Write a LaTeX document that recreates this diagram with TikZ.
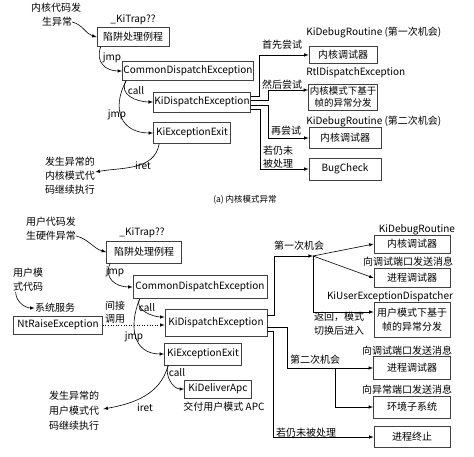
\documentclass[tikz,border=0pt]{standalone}
\usepackage{fontspec}
\setmainfont{Noto Sans CJK SC}
\begin{document}
\begin{tikzpicture}[x=1pt,y=1pt,>=latex,line width=0.6pt,
    every node/.style={font=\fontsize{10}{14}\selectfont},
    box/.style={draw=black!75,inner sep=1pt,align=center},
    txt/.style={inner sep=0pt,align=center}]
\useasboundingbox (0,0) rectangle (474,457);
                    % (a) Kernel mode
                    \node[txt] (AText1) at (56,449) {内核代码发};
                    \node[txt] (AText2) at (57,435) {生异常};
                    \node[txt] (ATrapL) at (133,437) {\_KiTrap??};
                    \node[box,minimum width=72pt,minimum height=19pt] (ATrap) at (133,420) {陷阱处理例程};
                    \node[txt] (AJmp1) at (112,399) {jmp};
                    \node[box,minimum width=129pt,minimum height=19pt] (ACommon) at (188,386) {CommonDispatchException};
                    \node[txt] (ACall) at (136,366) {call};
                    \node[box,minimum width=96pt,minimum height=20pt] (ADisp) at (202,355) {KiDispatchException};
                    \node[txt] (AJmp2) at (117,342) {jmp};
                    \node[box,minimum width=77pt,minimum height=21pt] (AExit) at (192,324) {KiExceptionExit};
                    \node[txt] (AIret) at (143,291) {iret};
                    \node[txt] (AResume) at (70,281) {发生异常的\\内核模式代\\码继续执行};
                    \node[txt,font=\fontsize{8.5}{10}\selectfont] (ACaption) at (245,257) {(a) 内核模式异常};
                    % (a) Handlers
                    \node[txt,anchor=west] (AKdL1) at (306,424) {KiDebugRoutine (第一次机会)};
                    \node[box,minimum width=68pt,minimum height=17pt] (AKd1) at (343,402) {内核调试器};
                    \node[txt] (AFirst) at (282,412) {首先尝试};
                    \node[txt,anchor=west] (ARtlL) at (306,384) {RtlDispatchException};
                    \node[box,minimum width=69pt,minimum height=26pt,font=\fontsize{9.5}{12}\selectfont] (AFrame) at (343,360) {内核模式下基于\\帧的异常分发};
                    \node[txt] (AThen) at (282,372) {然后尝试};
                    \node[txt,anchor=west] (AKdL2) at (306,335) {KiDebugRoutine (第二次机会)};
                    \node[box,minimum width=72pt,minimum height=21pt] (AKd2) at (345,319) {内核调试器};
                    \node[txt] (AAgain) at (286,326) {再尝试};
                    \node[txt,font=\fontsize{10}{13}\selectfont] (AUnh) at (278,300) {若仍未\\被处理};
                    \node[box,minimum width=72pt,minimum height=22pt] (ABug) at (345,288) {BugCheck};
                    % (a) Links
                    \draw [->] (AText2.east) to[out=-15,in=165] (ATrap.west);
                    \draw [->] ([xshift=4pt]ATrap.south west) to[out=-110,in=180,looseness=1.3] (ACommon.west);
                    \draw [->] ([xshift=4pt]ACommon.south west) to[out=-120,in=180,looseness=1.2] (ADisp.west);
                    \draw [->] ([xshift=4pt]ACommon.south west) to[out=-118,in=180,looseness=1.4] (AExit.west);
                    \draw [->] ([xshift=6pt]AExit.south west) to[out=-100,in=10] ([yshift=4pt]AResume.east);
                    \draw [->] ([yshift=6pt]ADisp.east) -- ++(8,0) |- (AKd1.west);
                    \draw [->] ([yshift=2pt]ADisp.east) -- ++(17,0) |- ([yshift=7pt]AFrame.west);
                    \draw [->] ([yshift=-3pt]ADisp.east) -- ++(17,0) |- (AKd2.west);
                    \draw [->] ([yshift=-7pt]ADisp.east) -- ++(9,0) |- (ABug.west);
                    % (b) User mode
                    \node[txt] (BText1) at (51,235) {用户代码发};
                    \node[txt] (BText2) at (51,221) {生硬件异常};
                    \node[txt] (BTrapL) at (142,224) {\_KiTrap??};
                    \node[box,minimum width=75pt,minimum height=22pt] (BTrap) at (144,205) {陷阱处理例程};
                    \node[txt] (BJmp1) at (115,185) {jmp};
                    \node[box,minimum width=134pt,minimum height=23pt] (BCommon) at (200,170) {CommonDispatchException};
                    \node[txt] (BUser) at (28,177) {用户模\\式代码};
                    \node[txt] (BSvc) at (55,149) {系统服务};
                    \node[box,minimum width=89pt,minimum height=18pt] (BRaise) at (58,132) {NtRaiseException};
                    \node[txt,font=\fontsize{10}{13}\selectfont] (BIndirect) at (115,145) {间接\\调用};
                    \node[txt] (BCall1) at (147,149) {call};
                    \node[box,minimum width=102pt,minimum height=27pt] (BDisp) at (216,134) {KiDispatchException};
                    \node[txt] (BJmp2) at (134,120) {jmp};
                    \node[box,minimum width=77pt,minimum height=22pt] (BExit) at (203,103) {KiExceptionExit};
                    \node[txt] (BCall2) at (177,84) {call};
                    \node[box,minimum width=67pt,minimum height=18pt] (BApc) at (218,68) {KiDeliverApc};
                    \node[txt] (BApcL) at (224,50) {交付用户模式 APC};
                    \node[txt] (BIret) at (145,49) {iret};
                    \node[txt,font=\fontsize{10}{15}\selectfont] (BResume) at (74,46) {发生异常的\\用户模式代\\码继续执行};
                    % (b) First chance
                    \node[txt] (BKdL) at (417,227) {KiDebugRoutine};
                    \node[box,minimum width=76pt,minimum height=18pt] (BKd) at (412,213) {内核调试器};
                    \node[txt] (BFirst) at (299,211) {第一次机会};
                    \coordinate (BHub1) at (313,201);
                    \node[txt] (BMsg1) at (408,195) {向调试端口发送消息};
                    \node[box,minimum width=76pt,minimum height=19pt] (BPd1) at (412,179) {进程调试器};
                    \node[txt] (BUedL) at (390,160) {KiUserExceptionDispatcher};
                    \node[box,minimum width=76pt,minimum height=35pt,font=\fontsize{10}{14}\selectfont] (BFrame) at (412,137) {用户模式下基于\\帧的异常分发};
                    \node[txt] (BReturn) at (339,133) {返回，模式\\切换后进入};
                    % (b) Second chance
                    \node[txt] (BSecond) at (315,97) {第二次机会};
                    \node[txt] (BMsg2) at (407,106) {向调试端口发送消息};
                    \node[box,minimum width=77pt,minimum height=23pt] (BPd2) at (412,89) {进程调试器};
                    \coordinate (BHub2) at (335,89);
                    \node[txt] (BMsg3) at (407,67) {向异常端口发送消息};
                    \node[box,minimum width=77pt,minimum height=22pt] (BEnv) at (412,50) {环境子系统};
                    \node[txt] (BUnh) at (306,24) {若仍未被处理};
                    \node[box,minimum width=76pt,minimum height=21pt] (BTerm) at (412,20) {进程终止};
                    % (b) Links
                    \draw [->] (BText2.east) to[out=-15,in=165] (BTrap.west);
                    \draw [->] ([xshift=4pt]BTrap.south west) to[out=-115,in=180,looseness=1.3] (BCommon.west);
                    \draw [->] ([xshift=3pt]BUser.south west) to[out=-90,in=180] (BSvc.west);
                    \draw [->] ([xshift=7pt]BCommon.south west) to[out=-120,in=180] ([yshift=6pt]BDisp.west);
                    \draw [->,dotted] (BRaise.east) -- (BRaise.east -| BDisp.west);
                    \draw [->] ([xshift=7pt]BCommon.south west) to[out=-112,in=180,looseness=1.3] (BExit.west);
                    \draw [->] ([xshift=4pt]BExit.south west) to[out=-110,in=180] (BApc.west);
                    \draw [->] ([xshift=4pt]BExit.south west) to[out=-105,in=10] ([xshift=4pt,yshift=2pt]BResume.east);
                    \draw [->] ([yshift=8pt]BDisp.east) -- ++(7,0) |- (BHub1);
                    \draw [->] (BHub1) -- (BKd.west);
                    \draw [->] (BHub1) -- (BPd1.west);
                    \draw [->] (BHub1) |- ([yshift=8pt]BFrame.west);
                    \draw [->] ([yshift=-4pt]BDisp.east) -- ++(20,0) |- (BPd2.west);
                    \draw [->] (BHub2) |- (BEnv.west);
                    \draw [->] ([yshift=-8pt]BDisp.east) -- ++(6,0) |- (BTerm.west);
\end{tikzpicture}
\end{document}
